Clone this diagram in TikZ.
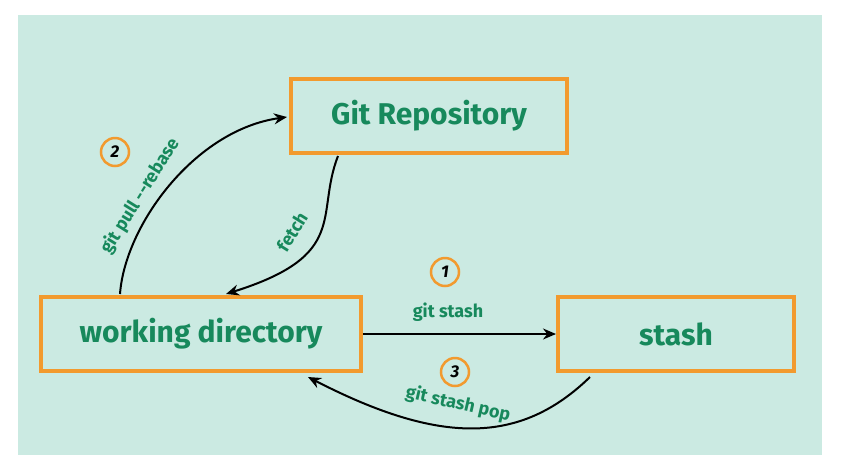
\documentclass[tikz,border=0pt]{standalone}
\usepackage{fontspec}
\setmainfont{Fira Sans}
\usetikzlibrary{arrows.meta}
\definecolor{sea}{HTML}{CBEAE2}
\definecolor{orng}{HTML}{F29A2E}
\definecolor{ink}{HTML}{17895C}
\begin{document}
\begin{tikzpicture}[x=1pt, y=-1pt,
        box/.style = {draw = orng, line width = 4pt, fill = sea,
            text = ink, font = \bfseries\fontsize{30}{34}\selectfont},
        lbl/.style = {text = ink, inner sep = 1pt, font = \bfseries\fontsize{18}{22}\selectfont},
        num/.style = {circle, draw = orng, line width = 2.5pt, inner sep = 2pt,
            minimum size = 28pt, font = \bfseries\itshape\fontsize{17}{20}\selectfont},
        arr/.style = {-{Stealth[length = 13pt, width = 11pt]}, line width = 2pt}
    ]

        % Page and background.
        \useasboundingbox (0,0) rectangle (854,475);
        \fill[sea] (18,15) rectangle (822,455);

        % The three boxes.
        \node[box, minimum width = 276pt, minimum height = 74pt] (repo) at (429,116) {Git Repository};
        \node[box, minimum width = 320pt, minimum height = 74pt] (work) at (201,334) {working directory};
        \node[box, minimum width = 236pt, minimum height = 74pt] (stash) at (676,334) {stash};

        % Helper points on the box borders.
        \coordinate (w1) at (120,294);
        \coordinate (w2) at (226,294);
        \coordinate (w3) at (308,377);
        \coordinate (r1) at (287,117);
        \coordinate (r2) at (338,156);
        \coordinate (s1) at (590,377);

        % Connectors.
        \draw[arr] (w1) .. controls (125,225) and (195,130) .. (r1);
        \draw[arr] (r2) .. controls (315,215) and (350,255) .. (w2);
        \draw[arr] (work.east) -- (stash.west);
        \draw[arr] (s1) .. controls (520,445) and (440,445) .. (w3);

        % Labels.
        \node[lbl, rotate = 58] (pull) at (140,196) {git pull -{}-rebase};
        \node[lbl, rotate = 58] (fetch) at (292,232) {fetch};
        \node[lbl] (push) at (448,312) {git stash};
        \node[lbl, rotate = -13] (pop) at (458,404) {git stash pop};

        % Step numbers.
        \node[num] (n1) at (445,272) {1};
        \node[num] (n2) at (115,152) {2};
        \node[num] (n3) at (455,372) {3};
    \end{tikzpicture}
\end{document}
